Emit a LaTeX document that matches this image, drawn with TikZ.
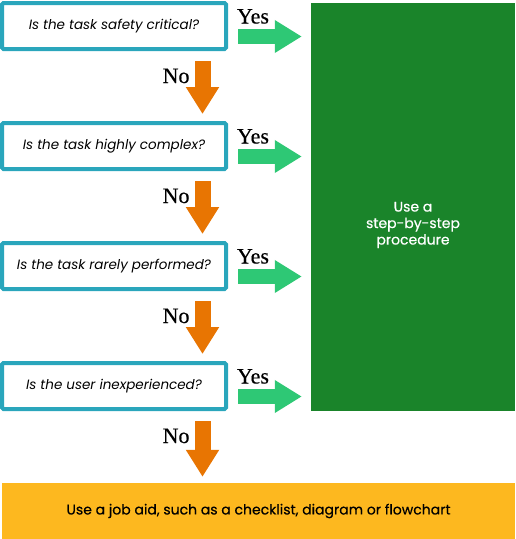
\documentclass[tikz,border=0pt]{standalone}
\usepackage{fontspec}
\setmainfont{Poppins}
\newfontfamily\answerfont{Liberation Serif}[FakeBold=0.5]
\newfontfamily\mediumfont{Poppins}[FakeBold=0.4]
\usetikzlibrary{arrows.meta,positioning}
\definecolor{qteal}{HTML}{2AA6BC}
\definecolor{yesgreen}{HTML}{2EC875}
\definecolor{procgreen}{HTML}{1A842A}
\definecolor{noorange}{HTML}{E87502}
\definecolor{aidyellow}{HTML}{FDB81F}

\begin{document}
\begin{tikzpicture}[x=1pt,y=-1pt,
  question/.style={draw=qteal,line width=4pt,rounded corners=1.5pt,fill=white,
    minimum width=224pt,minimum height=46pt,inner sep=0pt,
    font=\fontsize{13.5}{16}\selectfont\itshape},
  answer/.style={text=black,font=\answerfont\fontsize{22}{26}\selectfont,
    inner sep=0pt,outer sep=0pt},
  yesflow/.style={yesgreen,line width=15pt,-{Triangle[length=27pt,width=31pt]}},
  noflow/.style={noorange,line width=16pt,-{Triangle[length=27pt,width=31.5pt]}}]
\useasboundingbox (0,0) rectangle (515,539);
\node[question] (q1) at (114,26) {Is the task safety critical?};
\node[question] (q2) at (114,146) {Is the task highly complex?};
\node[question] (q3) at (114,266) {Is the task rarely performed?};
\node[question] (q4) at (114,386) {Is the user inexperienced?};
\node[fill=procgreen,minimum width=204pt,minimum height=408pt,inner sep=0pt]
  (proc) at (413,206.5) {};
\node[text=white,align=center,font=\mediumfont\fontsize{14}{16.5}\selectfont]
  (proctext) at (413,225) {Use a\\step-by-step\\procedure};
\node[fill=aidyellow,minimum width=513pt,minimum height=56pt,inner sep=0pt,
  font=\mediumfont\fontsize{14}{16}\selectfont] (aid) at (258.5,511)
  {Use a job aid, such as a checklist, diagram or flowchart};
% yes branches
\draw[yesflow,shorten >=9pt] ([shift={(10,10.5)}]q1.east) -- ([shift={(0,10.5)}]q1.east -| proc.west)
  node[answer,pos=0,anchor=base west,xshift=-1pt,yshift=13pt] (y1) {Yes};
\draw[yesflow,shorten >=9pt] ([shift={(10,10.5)}]q2.east) -- ([shift={(0,10.5)}]q2.east -| proc.west)
  node[answer,pos=0,anchor=base west,xshift=-1pt,yshift=13pt] (y2) {Yes};
\draw[yesflow,shorten >=9pt] ([shift={(10,10.5)}]q3.east) -- ([shift={(0,10.5)}]q3.east -| proc.west)
  node[answer,pos=0,anchor=base west,xshift=-1pt,yshift=13pt] (y3) {Yes};
\draw[yesflow,shorten >=9pt] ([shift={(10,10.5)}]q4.east) -- ([shift={(0,10.5)}]q4.east -| proc.west)
  node[answer,pos=0,anchor=base west,xshift=-1pt,yshift=13pt] (y4) {Yes};
% no branches
\draw[noflow,shorten >=7pt] ([shift={(88.5,10)}]q1.south) -- ([xshift=88.5pt]q2.north)
  node[answer,pos=0,anchor=base east,xshift=-13pt,yshift=-22pt] (n1) {No};
\draw[noflow,shorten >=7pt] ([shift={(88.5,10)}]q2.south) -- ([xshift=88.5pt]q3.north)
  node[answer,pos=0,anchor=base east,xshift=-13pt,yshift=-22pt] (n2) {No};
\draw[noflow,shorten >=7pt] ([shift={(88.5,10)}]q3.south) -- ([xshift=88.5pt]q4.north)
  node[answer,pos=0,anchor=base east,xshift=-13pt,yshift=-22pt] (n3) {No};
\draw[noflow,shorten >=6pt] ([shift={(88.5,10)}]q4.south) -- ([xshift=88.5pt]q4.south |- aid.north)
  node[answer,pos=0,anchor=base east,xshift=-13pt,yshift=-22pt] (n4) {No};
\end{tikzpicture}
\end{document}
